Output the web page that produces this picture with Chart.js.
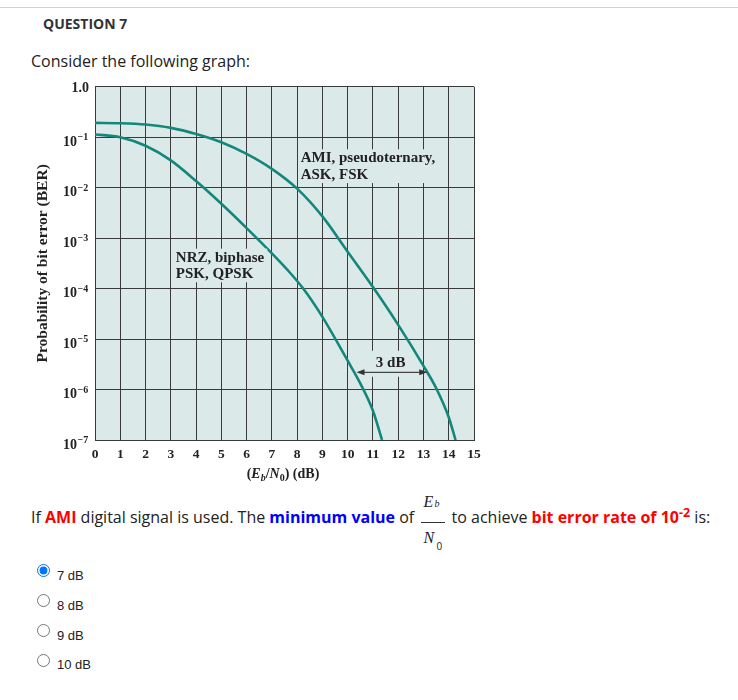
<!DOCTYPE html>
<html>
<head>
<meta charset="utf-8">
<script src="https://cdn.jsdelivr.net/npm/chart.js@4.4.1/dist/chart.umd.min.js"></script>
<style>
  body { margin: 0; background: #fff; font-family: "Open Sans", sans-serif; color: #222; }
  .page { position: relative; width: 738px; height: 700px; overflow: hidden; }
  .rule { position: absolute; left: 0; top: 7px; width: 738px; height: 1px; background: #d2d2d2; }
  .qnum { position: absolute; left: 43px; top: 16.5px; font-size: 14px; line-height: 1; font-weight: 700; color: #333; }
  .intro { position: absolute; left: 31px; top: 52.5px; font-size: 16px; line-height: 1; color: #222; }
  #chartBox { position: absolute; left: 30px; top: 75px; width: 460px; height: 395px; }
  .xtitle { position: absolute; left: 203px; top: 467px; width: 160px; text-align: center;
            font: bold 14px "Liberation Serif", serif; line-height: 1; color: #222; }
  .xtitle sub { font-size: 10px; line-height: 0; vertical-align: -3px; }
  .question { position: absolute; left: 31px; top: 509px; font-size: 16px; line-height: 1; white-space: nowrap; color: #222; }
  .red { color: #ff0000; font-weight: 700; }
  .blue { color: #0000ff; font-weight: 700; }
  .question sup { font-size: 12.5px; line-height: 0; vertical-align: 6px; }
  .frac { display: inline-block; position: relative; width: 24px; height: 0; margin: 0 2px 0 3px; }
  .frac span { position: absolute; line-height: 1; }
  .frac .e { left: 2px; top: -30px; font: italic 16px "Liberation Serif", serif; }
  .frac .bs { left: 13px; top: -25px; font: italic 10px "Liberation Serif", serif; }
  .frac .bar { left: 0; top: -1px; width: 24px; height: 1px; background: #333; }
  .frac .n { left: 2px; top: 6px; font: italic 16px "Liberation Serif", serif; }
  .frac .z { left: 15px; top: 16px; font: 10px "Open Sans", sans-serif; }
  .opt { position: absolute; left: 37px; width: 13px; height: 13px; margin: 0; }
  .optlabel { position: absolute; left: 57px; font: 13px "Liberation Sans", Arial, sans-serif; line-height: 1; color: #222; }
</style>
</head>
<body>
<div class="page">
  <div class="rule"></div>
  <div class="qnum">QUESTION 7</div>
  <div class="intro">Consider the following graph:</div>
  <div id="chartBox"><canvas id="berChart"></canvas></div>
  <div class="xtitle">(<i>E<sub>b</sub></i>/<i>N</i><sub>0</sub>) (dB)</div>
  <div class="question">If <span class="red">AMI</span> digital signal is used. The <span class="blue">minimum value</span> of <span class="frac"><span class="e">E</span><span class="bs">b</span><span class="bar"></span><span class="n">N</span><span class="z">0</span></span> to achieve <span class="red">bit error rate of 10<sup>-2</sup></span> is:</div>
  <input type="radio" name="q7" class="opt" style="top:564px" checked><span class="optlabel" style="top:569px">7 dB</span>
  <input type="radio" name="q7" class="opt" style="top:594px"><span class="optlabel" style="top:599px">8 dB</span>
  <input type="radio" name="q7" class="opt" style="top:624px"><span class="optlabel" style="top:629px">9 dB</span>
  <input type="radio" name="q7" class="opt" style="top:654px"><span class="optlabel" style="top:658px">10 dB</span>
</div>
<script>
// Eb/N0 (dB) and bit error probability
const amiEbNo = [0, 1, 2, 3, 4, 5, 6, 7, 8, 9, 10, 11, 12, 13, 13.5, 14, 14.27];
const amiBer = [0.192, 0.189, 0.178, 0.153, 0.116, 0.0796, 0.0468, 0.0236, 0.00955, 0.00269,
                5.37e-4, 1.07e-4, 1.91e-5, 2.95e-6, 1.07e-6, 2.82e-7, 1e-7];
const nrzEbNo = [0, 1, 2, 3, 4, 5, 6, 7, 7.6, 8.24, 9, 10, 10.5, 11, 11.36];
const nrzBer = [0.113, 0.1, 0.0676, 0.0347, 0.0135, 0.00479, 0.00158, 5.0e-4, 2.4e-4, 1e-4,
                2.75e-5, 3.72e-6, 1.32e-6, 3.8e-7, 1e-7];

const xTicks = [0, 1, 2, 3, 4, 5, 6, 7, 8, 9, 10, 11, 12, 13, 14, 15];
const yTicks = [1, 1e-1, 1e-2, 1e-3, 1e-4, 1e-5, 1e-6, 1e-7];
const yTickBase = ['1.0', '10', '10', '10', '10', '10', '10', '10'];
const yTickPower = ['', '−1', '−2', '−3', '−4', '−5', '−6', '−7'];

// text placed on the plot, anchored in data units (x = dB, y = BER at each baseline)
const curveLabels = [
    {lines: ['AMI, pseudoternary,', 'ASK, FSK'], x: 8.14, y: [3.18e-2, 1.48e-2]},
    {lines: ['NRZ, biphase', 'PSK, QPSK'], x: 3.2, y: [3.41e-4, 1.6e-4]}
];
const gapLabel = {text: '3 dB', x: 11.7, y: 2.83e-6};
const gapArrow = {from: 10.35, to: 13.15, y: 2.19e-6};

const plotBg = '#dbeae9';
const curveColor = '#13877b';
const gridColor = '#3a3a3a';
const serif = '"Liberation Serif", serif';

function toPoints(xs, ys) {
    return xs.map((v, i) => ({x: v, y: ys[i]}));
}

const plotBackground = {
    id: 'plotBackground',
    beforeDraw(chart) {
        const {ctx, chartArea: a} = chart;
        ctx.save();
        ctx.fillStyle = plotBg;
        ctx.fillRect(a.left, a.top, a.width, a.height);
        ctx.restore();
    }
};

// y labels as 10 with a raised exponent, placed by the y scale
const powerTicks = {
    id: 'powerTicks',
    afterDraw(chart) {
        const {ctx, chartArea: a, scales: {y}} = chart;
        ctx.save();
        ctx.fillStyle = '#222';
        ctx.textBaseline = 'alphabetic';
        yTicks.forEach((v, i) => {
            const py = y.getPixelForValue(v);
            if (!yTickPower[i]) {
                ctx.font = `bold 14px ${serif}`;
                ctx.textAlign = 'right';
                ctx.fillText(yTickBase[i], a.left - 6, py + 5);
                return;
            }
            ctx.font = `bold 14px ${serif}`;
            ctx.textAlign = 'right';
            ctx.fillText(yTickBase[i], a.left - 18, py + 8.5);
            ctx.font = `bold 10px ${serif}`;
            ctx.textAlign = 'left';
            ctx.fillText(yTickPower[i], a.left - 17.5, py + 3);
        });
        ctx.restore();
    }
};

const curveNotes = {
    id: 'curveNotes',
    afterDatasetsDraw(chart) {
        const {ctx, scales: {x, y}} = chart;
        ctx.save();
        ctx.font = `bold 15px ${serif}`;
        ctx.textBaseline = 'alphabetic';
        for (const note of curveLabels) {
            const px = x.getPixelForValue(note.x);
            const bases = note.y.map(v => y.getPixelForValue(v));
            const w = Math.max(...note.lines.map(t => ctx.measureText(t).width));
            //label box hides the grid behind the text
            ctx.fillStyle = plotBg;
            ctx.fillRect(px - 2, bases[0] - 13, w + 5, bases[bases.length - 1] - bases[0] + 17);
            ctx.fillStyle = '#222';
            ctx.textAlign = 'left';
            note.lines.forEach((t, i) => ctx.fillText(t, px, bases[i]));
        }

        //3 dB spacing marker
        const cx = x.getPixelForValue(gapLabel.x);
        const by = y.getPixelForValue(gapLabel.y);
        ctx.fillStyle = plotBg;
        ctx.fillRect(cx - 21, by - 16, 42, 26);
        ctx.fillStyle = '#222';
        ctx.textAlign = 'center';
        ctx.fillText(gapLabel.text, cx, by);

        const x1 = x.getPixelForValue(gapArrow.from);
        const x2 = x.getPixelForValue(gapArrow.to);
        const ay = y.getPixelForValue(gapArrow.y);
        ctx.strokeStyle = '#444';
        ctx.fillStyle = '#333';
        ctx.lineWidth = 1.3;
        ctx.beginPath(); ctx.moveTo(x1 + 4, ay); ctx.lineTo(x2 - 4, ay); ctx.stroke();
        ctx.beginPath(); ctx.moveTo(x1, ay); ctx.lineTo(x1 + 8, ay - 3); ctx.lineTo(x1 + 8, ay + 3); ctx.closePath(); ctx.fill();
        ctx.beginPath(); ctx.moveTo(x2, ay); ctx.lineTo(x2 - 8, ay - 3); ctx.lineTo(x2 - 8, ay + 3); ctx.closePath(); ctx.fill();
        ctx.restore();
    }
};

new Chart(document.getElementById('berChart'), {
    type: 'line',
    data: {
        datasets: [
            {label: 'AMI, pseudoternary, ASK, FSK', data: toPoints(amiEbNo, amiBer)},
            {label: 'NRZ, biphase PSK, QPSK', data: toPoints(nrzEbNo, nrzBer)}
        ]
    },
    options: {
        responsive: true, maintainAspectRatio: false, animation: false,
        layout: {padding: {top: 11.7, right: 16, left: 0, bottom: 0}},
        elements: {
            line: {borderColor: curveColor, borderWidth: 2.6, cubicInterpolationMode: 'monotone', fill: false},
            point: {radius: 0, hoverRadius: 0}
        },
        scales: {
            x: {
                type: 'linear', min: 0, max: 15,
                afterBuildTicks: s => { s.ticks = xTicks.map(v => ({value: v})); },
                afterFit: s => { s.height = 30; },
                ticks: {font: {family: serif, weight: 'bold', size: 13.5}, color: '#222', padding: 6, autoSkip: false, maxRotation: 0},
                grid: {color: gridColor, lineWidth: 1, drawTicks: false},
                border: {color: gridColor, width: 1}
            },
            y: {
                type: 'logarithmic', min: 1e-7, max: 1,
                afterBuildTicks: s => { s.ticks = yTicks.map(v => ({value: v})); },
                afterFit: s => { s.width = 65; },
                ticks: {display: false},
                grid: {color: gridColor, lineWidth: 1, drawTicks: false},
                border: {color: gridColor, width: 1},
                title: {
                    display: true, text: 'Probability of bit error (BER)', color: '#222',
                    font: {family: serif, weight: 'bold', size: 15.5},
                    padding: {top: 4, bottom: 0}
                }
            }
        },
        plugins: {legend: {display: false}, tooltip: {enabled: false}}
    },
    plugins: [plotBackground, powerTicks, curveNotes]
});
</script>
</body>
</html>
